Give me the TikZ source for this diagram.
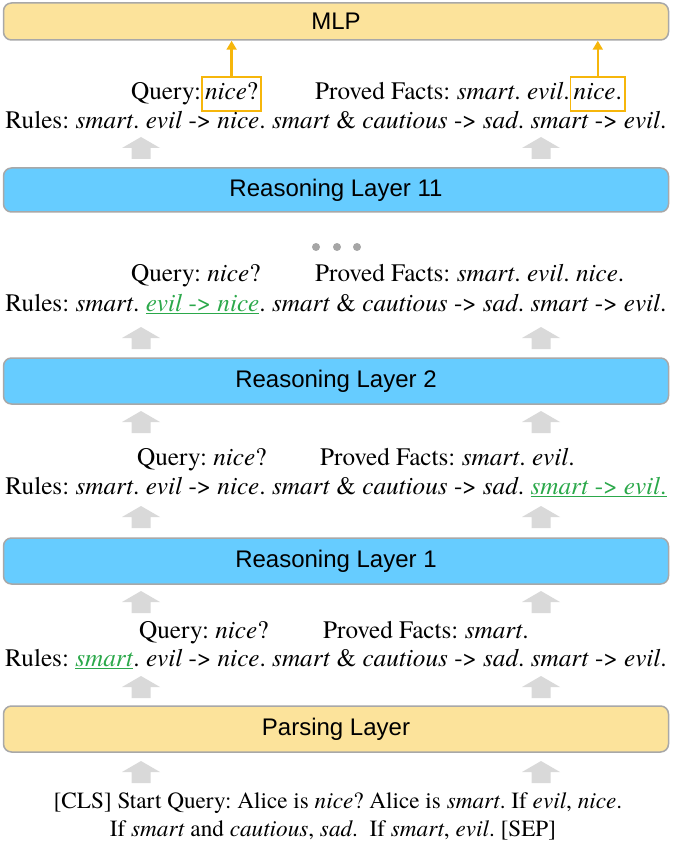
\documentclass[tikz,border=0pt]{standalone}
\usepackage{fontspec}
\setmainfont{texgyretermes}[Extension=.otf, UprightFont=*-regular, ItalicFont=*-italic, BoldFont=*-bold, BoldItalicFont=*-bolditalic]
\setsansfont{Liberation Sans}
\usetikzlibrary{arrows.meta}
\definecolor{layeryellow}{HTML}{FCE39B}
\definecolor{layerblue}{HTML}{66CCFF}
\definecolor{layerborder}{HTML}{A8A8A8}
\definecolor{arrowgray}{HTML}{D9D9D9}
\definecolor{dotgray}{HTML}{A6A6A6}
\definecolor{hlorange}{HTML}{F6B60B}
\definecolor{hlgreen}{HTML}{2BA84A}
\newcommand{\gu}[1]{{\color{hlgreen}\underline{#1}}}
\frenchspacing
\begin{document}
\begin{tikzpicture}[x=1pt,y=-1pt,
 layer/.style={draw=layerborder, line width=1.5pt, rounded corners=8pt, minimum width=665pt, inner sep=0pt, font=\sffamily\fontsize{24}{28}\selectfont},
 txt/.style={inner sep=0pt, font=\fontsize{25.2}{30}\selectfont},
 intxt/.style={inner sep=0pt, font=\fontsize{23.2}{28}\selectfont},
 hlbox/.style={draw=hlorange, line width=1.5pt, inner xsep=3pt, inner ysep=6pt, text height=17pt, text depth=5pt, font=\fontsize{25.2}{30}\selectfont},
 hlarrow/.style={draw=hlorange, line width=2.5pt, -{Triangle[length=9pt,width=10pt]}},
 upblock/.pic={\fill[arrowgray] (0,0) -- (19,11) -- (9.5,11) -- (9.5,22) -- (-9.5,22) -- (-9.5,11) -- (-19,11) -- cycle;}
]
\useasboundingbox (0,0) rectangle (672,842);
% layers
\node[layer, fill=layeryellow, minimum height=37pt] (mlp) at (336,21.5) {MLP};
\node[layer, fill=layerblue, minimum height=44pt] (rl11) at (336,190) {Reasoning Layer 11};
\node[layer, fill=layerblue, minimum height=46pt] (rl2) at (336,381) {Reasoning Layer 2};
\node[layer, fill=layerblue, minimum height=46pt] (rl1) at (336,561) {Reasoning Layer 1};
\node[layer, fill=layeryellow, minimum height=46pt] (parse) at (336,729) {Parsing Layer};
% top section
\node[txt, anchor=base west] (q4) at (131,100) {Query:};
\node[hlbox, anchor=base west] (q4n) at (q4.base east) {\textit{nice}?};
\node[txt, anchor=base west] (p4) at (315,100) {Proved Facts: \textit{smart}. \textit{evil}.};
\node[hlbox, anchor=base west] (p4n) at (p4.base east) {\textit{nice}.};
\node[txt, anchor=base] (r4) at (336,129) {Rules: \textit{smart}. \textit{evil} -> \textit{nice}. \textit{smart} \& \textit{cautious} -> \textit{sad}. \textit{smart} -> \textit{evil}.};
\draw[hlarrow] (q4n.north) -- (q4n.north |- mlp.south);
\draw[hlarrow] (p4n.north) -- (p4n.north |- mlp.south);
% dots
\fill[dotgray] (316,247) circle (4);
\fill[dotgray] (337,247) circle (4);
\fill[dotgray] (357,247) circle (4);
% section 3
\node[txt, anchor=base west] (q3) at (131,281) {Query: \textit{nice}?};
\node[txt, anchor=base west] (p3) at (315,281) {Proved Facts: \textit{smart}. \textit{evil}. \textit{nice}.};
\node[txt, anchor=base] (r3) at (336,311) {Rules: \textit{smart}. \gu{\textit{evil} -> \textit{nice}}. \textit{smart} \& \textit{cautious} -> \textit{sad}. \textit{smart} -> \textit{evil}.};
% section 2
\node[txt, anchor=base west] (q2) at (137,465) {Query: \textit{nice}?};
\node[txt, anchor=base west] (p2) at (320,465) {Proved Facts: \textit{smart}. \textit{evil}.};
\node[txt, anchor=base] (r2) at (336,494) {Rules: \textit{smart}. \textit{evil} -> \textit{nice}. \textit{smart} \& \textit{cautious} -> \textit{sad}. \gu{\textit{smart} -> \textit{evil}.}};
% section 1
\node[txt, anchor=base west] (q1) at (139,638) {Query: \textit{nice}?};
\node[txt, anchor=base west] (p1) at (323,638) {Proved Facts: \textit{smart}.};
\node[txt, anchor=base] (r1) at (336,666) {Rules: \gu{\textit{smart}}. \textit{evil} -> \textit{nice}. \textit{smart} \& \textit{cautious} -> \textit{sad}. \textit{smart} -> \textit{evil}.};
% input
\node[intxt, anchor=base] (in1) at (338,808) {[CLS] Start Query: Alice is \textit{nice}? Alice is \textit{smart}. If \textit{evil}, \textit{nice}.};
\node[intxt, anchor=base] (in2) at (333,836) {If \textit{smart} and \textit{cautious}, \textit{sad}.\ \ If \textit{smart}, \textit{evil}. [SEP]};
% gray block arrows
\foreach \ty in {137,327,411,506,591,676,761}{
  \pic at (141,\ty) {upblock};
  \pic at (541,\ty) {upblock};
}
\end{tikzpicture}
\end{document}
